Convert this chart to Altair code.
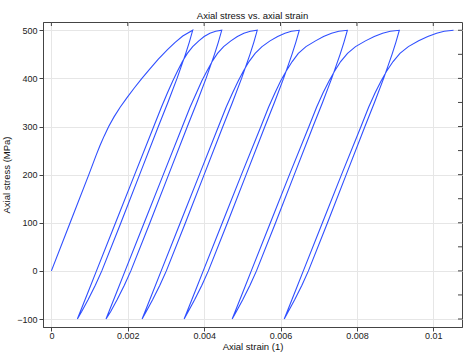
import altair as alt
import pandas as pd

# Initial monotonic loading (stress MPa, strain)
load_stress = [0, 100, 200, 240, 260, 280, 300, 320, 340, 360, 380, 400, 420, 440, 460, 475, 488, 500]
load_strain = [0, 0.00049, 0.00098, 0.00117, 0.00127, 0.00138, 0.0015, 0.00164, 0.0018, 0.00198,
               0.00217, 0.00237, 0.00258, 0.0028, 0.00304, 0.00324, 0.00344, 0.0037]

# Unloading branches (500 -> -100 MPa)
unload_stress = [500, 475, 450, 425, 400, 350, 300, 200, 100, 0, -30, -60, -85, -100]
unload_1 = [0.0037, 0.00361, 0.00351, 0.0034, 0.00329, 0.00305, 0.0028, 0.00231, 0.00182, 0.00132, 0.00115, 0.00096, 0.00079, 0.00068]
unload_2 = [0.00446, 0.00437, 0.00427, 0.00416, 0.00405, 0.00381, 0.00356, 0.00307, 0.00258, 0.00208, 0.00191, 0.00172, 0.00155, 0.00143]
unload_3 = [0.00539, 0.0053, 0.0052, 0.00509, 0.00498, 0.00474, 0.00449, 0.004, 0.00351, 0.00301, 0.00284, 0.00265, 0.00248, 0.002375]
unload_4 = [0.00649, 0.0064, 0.0063, 0.00619, 0.00608, 0.00584, 0.00559, 0.0051, 0.00461, 0.00411, 0.00394, 0.00375, 0.00358, 0.003476]
unload_5 = [0.00775, 0.00766, 0.00756, 0.00745, 0.00734, 0.0071, 0.00685, 0.00636, 0.00587, 0.00537, 0.0052, 0.00501, 0.00484, 0.004734]
unload_6 = [0.00911, 0.00902, 0.00892, 0.00881, 0.0087, 0.00846, 0.00821, 0.00772, 0.00723, 0.00673, 0.00656, 0.00637, 0.0062, 0.006097]

# Reloading branches (-100 -> 500 MPa)
reload_stress = [-100, -50, 0, 100, 200, 300, 340, 370, 395, 415, 435, 452, 466, 478, 487, 494, 498, 500]
reload_1 = [0.00068, 0.00093, 0.00118, 0.00168, 0.00218, 0.00268, 0.00288, 0.00304, 0.00318, 0.0033, 0.00343,
            0.00356, 0.0037, 0.00386, 0.004, 0.00415, 0.0043, 0.00446]
reload_2 = [0.00143, 0.00168, 0.00193, 0.00243, 0.00293, 0.00343, 0.00363, 0.0038, 0.00394, 0.00407, 0.00421,
            0.00435, 0.00451, 0.0047, 0.00487, 0.00504, 0.00521, 0.00539]
reload_3 = [0.002375, 0.002625, 0.002875, 0.003375, 0.003875, 0.004375, 0.004575, 0.004745, 0.004895, 0.005025,
            0.005175, 0.005335, 0.005515, 0.005725, 0.005925, 0.006115, 0.006285, 0.00649]
reload_4 = [0.003476, 0.003726, 0.003976, 0.004476, 0.004976, 0.005486, 0.005686, 0.005856, 0.006006, 0.006146,
            0.006306, 0.006466, 0.006666, 0.006916, 0.007126, 0.007336, 0.007526, 0.00775]
reload_5 = [0.004734, 0.004984, 0.005234, 0.005734, 0.006234, 0.006744, 0.006944, 0.007114, 0.007274, 0.007414,
            0.007574, 0.007754, 0.007964, 0.008224, 0.008454, 0.008674, 0.008874, 0.00911]
reload_6 = [0.006097, 0.006347, 0.006597, 0.007097, 0.007597, 0.008107, 0.008307, 0.008477, 0.008637, 0.008777,
            0.008947, 0.009127, 0.009347, 0.009617, 0.009857, 0.010087, 0.010287, 0.01053]

x_ticks = [0, 0.002, 0.004, 0.006, 0.008, 0.01]
y_ticks = [-100, -50, 0, 50, 100, 150, 200, 250, 300, 350, 400, 450, 500]

segments = [(load_strain, load_stress)]
for u, r in [(unload_1, reload_1), (unload_2, reload_2), (unload_3, reload_3),
             (unload_4, reload_4), (unload_5, reload_5), (unload_6, reload_6)]:
    segments.append((u, unload_stress))
    segments.append((r, reload_stress))

rows = []
i = 0
for xs, ys in segments:
    for x, y in zip(xs, ys):
        rows.append({"strain": x, "stress": y, "order": i})
        i += 1
df = pd.DataFrame(rows)

W, H = 419, 305
FONT = "Liberation Sans"

xscale = alt.Scale(domain=[-0.00022, 0.010752], nice=False, zero=False)
yscale = alt.Scale(domain=[-116.6, 517.2], nice=False, zero=False)

line = alt.Chart(df).mark_line(color="#2f4fff", strokeWidth=1.1, clip=True).encode(
    x=alt.X("strain:Q", scale=xscale,
            axis=alt.Axis(values=x_ticks, title="Axial strain (1)", labelExpr="format(datum.value, '.3~f')",
                          tickSize=4, labelPadding=0, titlePadding=1, grid=True)),
    y=alt.Y("stress:Q", scale=yscale,
            axis=alt.Axis(values=y_ticks, title="Axial stress (MPa)", tickSize=4, labelPadding=2,
                          titlePadding=5, grid=True)),
    order="order:Q",
)

top_ticks = alt.Chart(pd.DataFrame({"t": x_ticks})).mark_rule(color="#444", strokeWidth=1).encode(
    x=alt.X("t:Q", scale=xscale), y=alt.value(0), y2=alt.value(4)
)
right_ticks = alt.Chart(pd.DataFrame({"t": y_ticks})).mark_rule(color="#444", strokeWidth=1).encode(
    y=alt.Y("t:Q", scale=yscale), x=alt.value(W - 4), x2=alt.value(W)
)

chart = alt.layer(line, top_ticks, right_ticks).properties(
    width=W, height=H,
    title=alt.TitleParams("Axial stress vs. axial strain", fontSize=9.5, font=FONT,
                          fontWeight="normal", color="#111", offset=1),
    autosize=alt.AutoSizeParams(type="none"),
    padding={"left": 43, "top": 22, "right": 7, "bottom": 36},
).configure_view(stroke="#444", strokeWidth=1).configure_axis(
    labelFont=FONT, titleFont=FONT, labelFontSize=9, titleFontSize=9.5,
    titleFontWeight="normal", labelColor="#222", titleColor="#111",
    gridColor="#e6e6e6", gridWidth=1, domainColor="#444", tickColor="#444",
)

chart.save("out.html", embed_options={"renderer": "svg", "actions": False})
